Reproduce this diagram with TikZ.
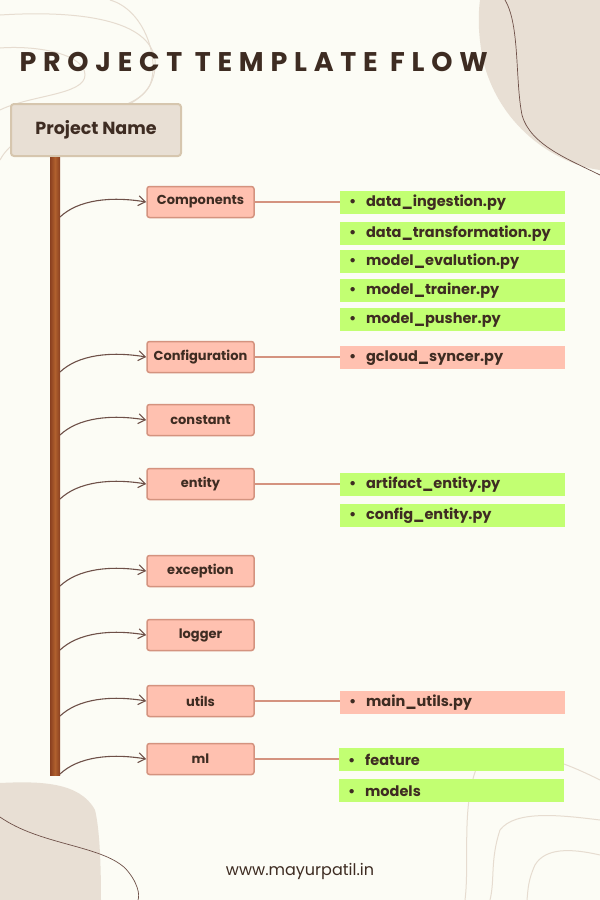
\documentclass[tikz,border=0pt]{standalone}
\usepackage{fontspec}
\setmainfont{Poppins}
\usetikzlibrary{arrows.meta}
\definecolor{bg}{HTML}{FCFCF5}
\definecolor{blob}{HTML}{E8DFD4}
\definecolor{blobb}{HTML}{D6C6AE}
\definecolor{ink}{HTML}{3E2C22}
\definecolor{salmon}{HTML}{FFC1B0}
\definecolor{salmonb}{HTML}{D4937F}
\definecolor{lime}{HTML}{C2FF72}
\definecolor{bara}{HTML}{8A4020}
\definecolor{barb}{HTML}{B0602E}
\definecolor{arr}{HTML}{6E5048}
\definecolor{contour}{HTML}{E6DCD0}
\begin{document}
\begin{tikzpicture}[x=1pt,y=-1pt,
  box/.style={draw=salmonb,line width=1.5pt,fill=salmon,rounded corners=2.5pt,minimum width=107pt,minimum height=31pt,inner sep=0pt,font=\fontsize{13}{15}\selectfont\bfseries,text=ink},
  item/.style={fill=#1,minimum width=225pt,minimum height=23pt,inner sep=0pt,anchor=north west,text width=207pt,align=left,font=\fontsize{14.5}{16}\selectfont\bfseries,text=ink},
  link/.style={draw=salmonb,line width=2.2pt},
  curv/.style={draw=arr,line width=1.1pt,-{Straight Barb[length=7pt,width=10pt]}}]
\useasboundingbox (0,0) rectangle (600,900);
\fill[bg] (0,0) rectangle (600,900);
% decorations
\fill[blob] (480,0) -- (600,0) -- (600,170) .. controls (560,165) and (500,130) .. (483,60) .. controls (478,35) and (478,15) .. (480,0) -- cycle;
\draw[arr,line width=0.7pt] (505,0) .. controls (520,25) and (515,80) .. (522,115) .. controls (530,145) and (570,160) .. (600,175);
\fill[blob] (0,783) .. controls (40,781) and (80,782) .. (95,810) .. controls (100,830) and (101,870) .. (101,900) -- (0,900) -- cycle;
\draw[arr,line width=0.7pt] (0,817) .. controls (40,845) and (100,845) .. (125,868) .. controls (138,882) and (140,895) .. (138,900);
\draw[contour,line width=1pt] (0,15) .. controls (80,10) and (150,20) .. (155,60) .. controls (158,110) and (100,115) .. (40,130) .. controls (20,135) and (5,150) .. (0,160);
\draw[contour,line width=1pt] (0,48) .. controls (40,45) and (85,55) .. (85,75) .. controls (85,95) and (30,95) .. (0,110);
\draw[contour,line width=1pt] (110,0) .. controls (145,10) and (160,60) .. (150,85) .. controls (140,105) and (110,108) .. (100,115);
\draw[contour,line width=1pt] (600,780) .. controls (560,760) and (520,745) .. (480,760) .. controls (460,800) and (470,860) .. (465,900);
\draw[contour,line width=1pt] (600,820) .. controls (560,815) and (515,810) .. (500,830) .. controls (490,860) and (495,880) .. (490,900);
\draw[contour,line width=1pt] (600,855) .. controls (570,848) and (545,848) .. (535,865) .. controls (528,880) and (528,890) .. (527,900);
% title
\node[anchor=west,text=ink,font=\fontsize{27}{29}\selectfont\bfseries\addfontfeatures{LetterSpace=25}] (title) at (16,62) {PROJECT TEMPLATE FLOW};
% project name
\node[draw=blobb,line width=2pt,fill=blob,rounded corners=3pt,minimum width=170pt,minimum height=52pt,font=\fontsize{17.5}{19}\selectfont\bfseries,text=ink] (proj) at (96,130) {Project Name};
\shade[left color=bara,right color=bara,middle color=barb] (50,157) rectangle (60,775);
% boxes
\foreach \n/\t/\y in {comp/Components/202,conf/Configuration/357,cons/constant/420,ent/entity/484,exc/exception/571,log/logger/635,ut/utils/701,ml/ml/759}{
  \node[box] (\n) at (200.5,\y) {\t};
  \coordinate (s\n) at (60,\y+15);
  \draw[curv] (s\n) .. controls (78,\y-2) and (110,\y-6) .. (\n.west);
}
% links
\foreach \n/\y in {comp/202,conf/357,ent/484,ut/701,ml/759}{
  \coordinate (e\n) at (340,\y);
  \draw[link] (\n.east) -- (e\n);
}
% items
\node[item=lime] (i1) at (340,191) {\textbullet\ \ data\_ingestion.py};
\node[item=lime] (i2) at (340,222) {\textbullet\ \ data\_transformation.py};
\node[item=lime] (i3) at (340,250) {\textbullet\ \ model\_evalution.py};
\node[item=lime] (i4) at (340,279) {\textbullet\ \ model\_trainer.py};
\node[item=lime] (i5) at (340,308) {\textbullet\ \ model\_pusher.py};
\node[item=salmon] (i6) at (340,346) {\textbullet\ \ gcloud\_syncer.py};
\node[item=lime] (i7) at (340,473) {\textbullet\ \ artifact\_entity.py};
\node[item=lime] (i8) at (340,504) {\textbullet\ \ config\_entity.py};
\node[item=salmon] (i9) at (340,691) {\textbullet\ \ main\_utils.py};
\node[item=lime] (i10) at (339,748) {\textbullet\ \ feature};
\node[item=lime] (i11) at (339,779) {\textbullet\ \ models};
\node[text=ink,font=\fontsize{16}{18}\selectfont] (web) at (300,871) {www.mayurpatil.in};
\end{tikzpicture}
\end{document}
